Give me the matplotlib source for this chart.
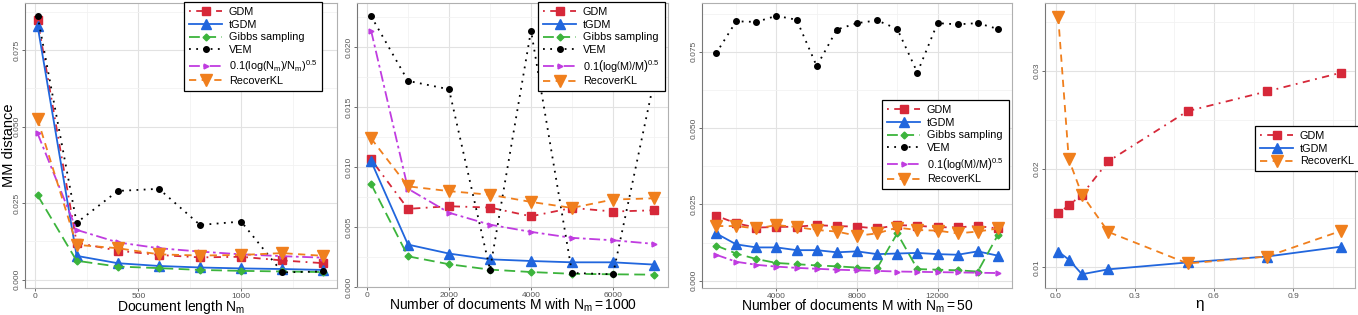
import matplotlib
matplotlib.use('Agg')
import matplotlib.pyplot as plt
from matplotlib.ticker import MultipleLocator, FormatStrFormatter

plt.rcParams['font.family'] = ['Liberation Sans', 'DejaVu Sans']
plt.rcParams['mathtext.fontset'] = 'custom'
plt.rcParams['mathtext.rm'] = 'Liberation Sans'
plt.rcParams['mathtext.it'] = 'Liberation Sans:italic'

# ---- data: panel 1 (document length) ----
p1_x = [10, 200, 400, 600, 800, 1000, 1200, 1400]
p1_gdm = [0.0850, 0.0121, 0.0095, 0.0081, 0.0073, 0.0075, 0.0063, 0.0054]
p1_tgdm = [0.0830, 0.0078, 0.0054, 0.0045, 0.0040, 0.0037, 0.0035, 0.0032]
p1_gibbs = [0.0276, 0.0062, 0.0043, 0.0038, 0.0032, 0.0029, 0.0027, 0.0025]
p1_vem = [0.0863, 0.0186, 0.0290, 0.0297, 0.0179, 0.0190, 0.0024, 0.0027]
p1_rate = [0.0478, 0.0163, 0.0122, 0.0103, 0.0092, 0.0083, 0.0077, 0.0072]
p1_rkl = [0.0525, 0.0114, 0.0103, 0.0083, 0.0079, 0.0081, 0.0087, 0.0078]

# ---- data: panel 2 (M, N_m = 1000) ----
p2_x = [100, 1000, 2000, 3000, 4000, 5000, 6000, 7000]
p2_gdm = [0.01064, 0.00652, 0.00674, 0.00663, 0.00590, 0.00660, 0.00630, 0.00640]
p2_tgdm = [0.01050, 0.00354, 0.00279, 0.00231, 0.00217, 0.00206, 0.00206, 0.00187]
p2_gibbs = [0.00860, 0.00256, 0.00190, 0.00145, 0.00125, 0.00110, 0.00106, 0.00103]
p2_vem = [0.02260, 0.01720, 0.01650, 0.00145, 0.02140, 0.00117, 0.00106, 0.01720]
p2_rate = [0.02140, 0.00820, 0.00620, 0.00520, 0.00460, 0.00410, 0.00390, 0.00360]
p2_rkl = [0.01240, 0.00840, 0.00800, 0.00770, 0.00710, 0.00660, 0.00730, 0.00740]

# ---- data: panel 3 (M, N_m = 50) ----
p3_x = [1000, 2000, 3000, 4000, 5000, 6000, 7000, 8000,
        9000, 10000, 11000, 12000, 13000, 14000, 15000]
p3_gdm = [0.0213, 0.0188, 0.0174, 0.0176, 0.0177, 0.0182, 0.0179, 0.0177,
          0.0171, 0.0182, 0.0180, 0.0175, 0.0175, 0.0179, 0.0171]
p3_tgdm = [0.0155, 0.0119, 0.0109, 0.0109, 0.0100, 0.0100, 0.0093, 0.0096,
           0.0087, 0.0089, 0.0091, 0.0087, 0.0085, 0.0096, 0.0082]
p3_gibbs = [0.0115, 0.0089, 0.0071, 0.0058, 0.0054, 0.0050, 0.0047, 0.0043,
            0.0041, 0.0155, 0.0038, 0.0036, 0.0034, 0.0030, 0.0150]
p3_vem = [0.0745, 0.0850, 0.0848, 0.0868, 0.0855, 0.0703, 0.0823, 0.0844,
          0.0853, 0.0825, 0.0682, 0.0844, 0.0840, 0.0844, 0.0825]
p3_rate = [0.0085, 0.0062, 0.0052, 0.0046, 0.0042, 0.0039, 0.0036, 0.0034,
           0.0032, 0.0030, 0.0029, 0.0028, 0.0027, 0.0026, 0.0025]
p3_rkl = [0.0179, 0.0179, 0.0171, 0.0182, 0.0176, 0.0166, 0.0161, 0.0147,
          0.0155, 0.0174, 0.0166, 0.0164, 0.0155, 0.0161, 0.0171]

# ---- data: panel 4 (eta) ----
p4_x = [0.01, 0.05, 0.1, 0.2, 0.5, 0.8, 1.08]
p4_gdm = [0.0155, 0.0163, 0.0174, 0.0208, 0.0259, 0.0279, 0.0298]
p4_tgdm = [0.0116, 0.0108, 0.0093, 0.0098, 0.0105, 0.0111, 0.0121]
p4_rkl = [0.0355, 0.0210, 0.0174, 0.0136, 0.0104, 0.0111, 0.0137]

# series styles
styles = {
    'GDM': dict(color='#d62839', ls=(0, (1, 3, 4, 3)), marker='s', ms=6),
    'tGDM': dict(color='#2166dd', ls='-', marker='^', ms=7),
    'Gibbs sampling': dict(color='#3cb43c', ls=(0, (6, 3)), marker='D', ms=3.5),
    'VEM': dict(color='black', ls=(0, (1, 3)), marker='o', ms=4),
    'rate': dict(color='#c03ce0', ls=(0, (6, 2, 1.5, 2)), marker='>', ms=3.5),
    'RecoverKL': dict(color='#f07f1d', ls=(0, (4, 3)), marker='v', ms=8.5),
}

W, H = 1358, 315
fig = plt.figure(figsize=(W / 100, H / 100), dpi=100, facecolor='white')


def make_ax(l, r, t, b):
    return fig.add_axes([l / W, 1 - b / H, (r - l) / W, (b - t) / H])


def style_ax(ax, xmaj, ymaj, yfmt):
    ax.xaxis.set_major_locator(MultipleLocator(xmaj))
    ax.xaxis.set_minor_locator(MultipleLocator(xmaj / 2))
    ax.yaxis.set_major_locator(MultipleLocator(ymaj))
    ax.yaxis.set_minor_locator(MultipleLocator(ymaj / 2))
    ax.yaxis.set_major_formatter(FormatStrFormatter(yfmt))
    ax.grid(which='major', color='#e2e2e2', lw=0.8)
    ax.grid(which='minor', color='#f2f2f2', lw=0.6)
    ax.set_axisbelow(True)
    ax.tick_params(which='major', labelsize=6, colors='#555555', length=2, width=0.6, pad=1.5)
    ax.tick_params(which='minor', length=0)
    for lab in ax.get_yticklabels():
        lab.set_rotation(90)
        lab.set_va('center')
    for s in ax.spines.values():
        s.set_color('#b0b0b0')
        s.set_linewidth(0.8)
    ax.spines['left'].set_color('#777777')


def draw(ax, x, name, y, label):
    st = styles[name]
    ax.plot(x, y, color=st['color'], ls=st['ls'], lw=1.3, marker=st['marker'],
            ms=st['ms'], mec=st['color'], label=label)


def add_legend(ax, x0, y0):
    leg = ax.legend(loc='upper left', bbox_to_anchor=(x0 / W, 1 - y0 / H),
                    bbox_transform=fig.transFigure, fontsize=7.8, frameon=True,
                    fancybox=False, edgecolor='black', framealpha=1,
                    handlelength=3.1, labelspacing=0.25, borderpad=0.45,
                    handletextpad=0.6, borderaxespad=0)
    leg.get_frame().set_linewidth(0.9)
    leg.set_zorder(10)


# panel 1
ax1 = make_ax(25, 337, 3, 288)
draw(ax1, p1_x, 'GDM', p1_gdm, 'GDM')
draw(ax1, p1_x, 'tGDM', p1_tgdm, 'tGDM')
draw(ax1, p1_x, 'Gibbs sampling', p1_gibbs, 'Gibbs sampling')
draw(ax1, p1_x, 'VEM', p1_vem, 'VEM')
draw(ax1, p1_x, 'rate', p1_rate,
     r'$0.1\left(\mathrm{log}\left(\mathrm{N_m}\right)/\mathrm{N_m}\right)^{0.5}$')
draw(ax1, p1_x, 'RecoverKL', p1_rkl, 'RecoverKL')
ax1.set_xlim(-51, 1466)
ax1.set_ylim(-0.0027, 0.0904)
style_ax(ax1, 500, 0.025, '%.3f')
ax1.set_xlabel(r'Document length $\mathrm{N_m}$', fontsize=10, labelpad=-1.5)
ax1.set_ylabel('MM distance', fontsize=10.5)
ax1.yaxis.set_label_coords(-0.03, 0.5)
add_legend(ax1, 184, 2)

# panel 2
ax2 = make_ax(357, 668, 3, 287)
draw(ax2, p2_x, 'GDM', p2_gdm, 'GDM')
draw(ax2, p2_x, 'tGDM', p2_tgdm, 'tGDM')
draw(ax2, p2_x, 'Gibbs sampling', p2_gibbs, 'Gibbs sampling')
draw(ax2, p2_x, 'VEM', p2_vem, 'VEM')
draw(ax2, p2_x, 'rate', p2_rate,
     r'$0.1\left(\mathrm{log}\left(\mathrm{M}\right)/\mathrm{M}\right)^{0.5}$')
draw(ax2, p2_x, 'RecoverKL', p2_rkl, 'RecoverKL')
ax2.set_xlim(-243, 7340)
ax2.set_ylim(0.0, 0.0237)
style_ax(ax2, 2000, 0.005, '%.3f')
ax2.set_xlabel(r'Number of documents M with $\mathrm{N_m = 1000}$', fontsize=10, labelpad=-1.5)
add_legend(ax2, 538, 2)

# panel 3
ax3 = make_ax(702, 1012, 3, 288)
draw(ax3, p3_x, 'GDM', p3_gdm, 'GDM')
draw(ax3, p3_x, 'tGDM', p3_tgdm, 'tGDM')
draw(ax3, p3_x, 'Gibbs sampling', p3_gibbs, 'Gibbs sampling')
draw(ax3, p3_x, 'VEM', p3_vem, 'VEM')
draw(ax3, p3_x, 'rate', p3_rate,
     r'$0.1\left(\mathrm{log}\left(\mathrm{M}\right)/\mathrm{M}\right)^{0.5}$')
draw(ax3, p3_x, 'RecoverKL', p3_rkl, 'RecoverKL')
ax3.set_xlim(300, 15700)
ax3.set_ylim(-0.0024, 0.091)
style_ax(ax3, 4000, 0.025, '%.3f')
ax3.set_xlabel(r'Number of documents M with $\mathrm{N_m = 50}$', fontsize=10, labelpad=-1.5)
add_legend(ax3, 882, 100)

# panel 4
ax4 = make_ax(1045, 1355, 3, 288)
draw(ax4, p4_x, 'GDM', p4_gdm, 'GDM')
draw(ax4, p4_x, 'tGDM', p4_tgdm, 'tGDM')
draw(ax4, p4_x, 'RecoverKL', p4_rkl, 'RecoverKL')
ax4.set_xlim(-0.04, 1.134)
ax4.set_ylim(0.0079, 0.0369)
style_ax(ax4, 0.3, 0.01, '%.2f')
ax4.xaxis.set_major_formatter(FormatStrFormatter('%.1f'))
ax4.set_xlabel('η', fontsize=11, labelpad=-2)
add_legend(ax4, 1255, 126)

fig.savefig('out.png', dpi=100, facecolor='white')
